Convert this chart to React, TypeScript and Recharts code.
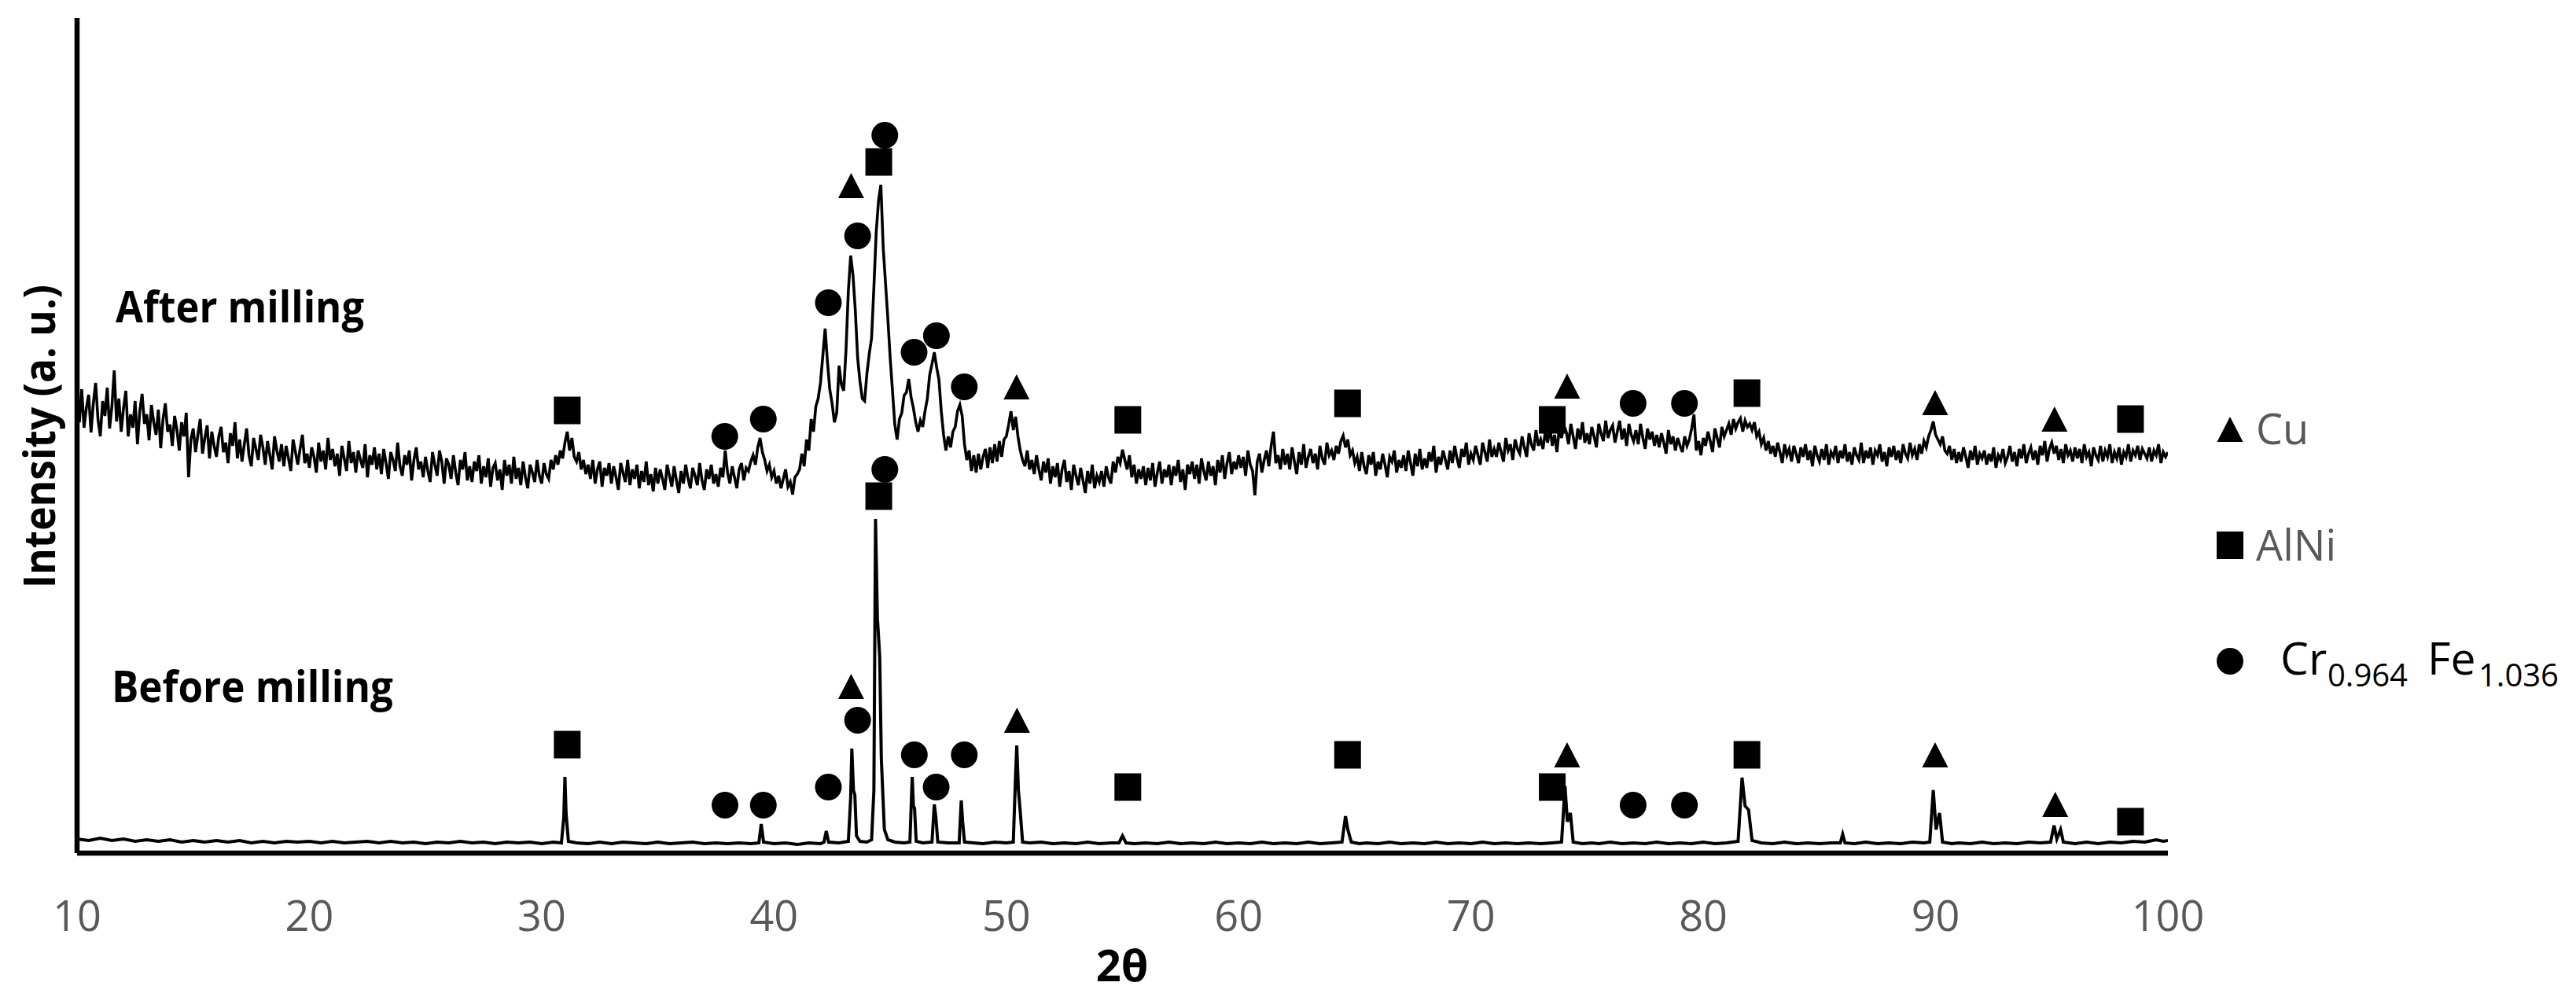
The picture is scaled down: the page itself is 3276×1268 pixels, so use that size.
import React from 'react';
import { ComposedChart, Line, Scatter, XAxis, YAxis, ReferenceLine } from 'recharts';

const X_TICKS = [10, 20, 30, 40, 50, 60, 70, 80, 90, 100];

// After milling intensity (a.u.), sampled every 0.1° from 10.0° to 41.0°
const afterLow = [
  575, 548, 590, 541, 566, 583, 535, 572, 598, 552,
  530, 575, 556, 592, 540, 568, 614, 549, 578, 536,
  566, 588, 530, 558, 541, 575, 520, 562, 584, 546,
  558, 525, 570, 548, 532, 564, 515, 552, 572, 536,
  545, 518, 556, 538, 512, 548, 530, 560, 478, 526,
  540, 510, 532, 552, 508, 528, 544, 502, 536, 518,
  504, 530, 542, 510, 522, 496, 534, 518, 548, 502,
  526, 498, 520, 540, 506, 492, 528, 514, 500, 532,
  516, 494, 524, 506, 488, 530, 512, 498, 520, 492,
  518, 502, 486, 526, 510, 494, 514, 532, 496, 508,
  490, 516, 504, 484, 522, 498, 512, 488, 528, 500,
  514, 492, 508, 480, 518, 502, 486, 524, 496, 510,
  484, 512, 500, 490, 520, 478, 506, 494, 516, 488,
  508, 482, 514, 496, 476, 510, 500, 486, 522, 492,
  480, 506, 494, 512, 474, 500, 516, 488, 498, 478,
  504, 486, 472, 510, 494, 480, 512, 498, 470, 502,
  494, 476, 506, 484, 468, 500, 488, 510, 474, 492,
  472, 498, 486, 506, 470, 492, 478, 502, 466, 490,
  496, 474, 488, 462, 500, 480, 494, 470, 504, 476,
  490, 468, 498, 478, 464, 494, 484, 472, 500, 480,
  470, 496, 482, 476, 500, 488, 506, 494, 512, 502,
  522, 536, 512, 528, 504, 498, 510, 488, 500, 482,
  494, 476, 500, 470, 488, 498, 466, 490, 480, 496,
  470, 492, 478, 462, 496, 484, 472, 500, 468, 488,
  476, 494, 464, 486, 472, 498, 468, 482, 460, 490,
  470, 488, 476, 462, 494, 480, 466, 492, 474, 458,
  486, 470, 494, 476, 464, 490, 480, 468, 496, 474,
  462, 488, 476, 494, 470, 482, 466, 490, 478, 512,
  484, 470, 492, 478, 464, 488, 496, 474, 490, 486,
  498, 506, 494, 516, 528, 510, 500, 486, 494, 478,
  486, 470, 480, 464, 476, 488, 466, 472, 456, 478,
  482,
];

// After milling, every 0.1° from 41.1° to 51.0° (main peak cluster)
const afterPeak = [
  488, 508, 492, 526, 512, 552, 536, 568, 578, 598,
  632, 667, 625, 590, 572, 548, 560, 620, 596, 588,
  640, 715, 760, 735, 690, 630, 600, 578, 575, 610,
  635, 655, 720, 790, 830, 850, 770, 725, 680, 630,
  588, 545, 526, 552, 560, 582, 586, 603, 580, 566,
  548, 536, 550, 542, 562, 578, 608, 622, 637, 618,
  602, 562, 532, 512, 530, 516, 536, 542, 562, 570,
  556, 520, 500, 512, 486, 506, 484, 508, 488, 504,
  514, 490, 516, 496, 520, 498, 524, 504, 526, 530,
  545, 562, 538, 555, 530, 512, 500, 492, 512, 488,
];

// After milling, every 0.1° from 51.1° to 100.0°
const afterHigh = [
  500, 482, 506, 488, 474, 498, 484, 502, 470, 492,
  478, 496, 466, 488, 500, 472, 486, 462, 494, 480,
  468, 490, 474, 458, 486, 470, 494, 464, 480, 472,
  486, 466, 492, 478, 470, 498, 484, 504, 496, 513,
  500, 488, 506, 478, 494, 470, 488, 476, 492, 468,
  490, 474, 496, 466, 484, 498, 470, 488, 478, 494,
  468, 492, 480, 500, 472, 488, 462, 494, 482, 498,
  476, 494, 470, 502, 486, 474, 498, 480, 492, 468,
  500, 484, 506, 476, 496, 510, 482, 498, 488, 506,
  490, 504, 480, 512, 494, 486, 455, 498, 508, 484,
  500, 512, 492, 518, 536, 496, 506, 488, 514, 494,
  508, 488, 516, 498, 482, 510, 494, 520, 490, 504,
  514, 496, 508, 488, 518, 502, 494, 522, 506, 512,
  500, 518, 508, 524, 531, 516, 526, 506, 512, 496,
  504, 486, 510, 492, 482, 506, 494, 510, 480, 498,
  488, 508, 494, 478, 504, 498, 512, 484, 500, 490,
  506, 486, 512, 496, 480, 508, 492, 514, 488, 502,
  490, 510, 498, 518, 484, 504, 494, 512, 500, 488,
  512, 496, 518, 502, 490, 514, 504, 522, 494, 508,
  500, 518, 506, 494, 522, 510, 498, 526, 504, 514,
  504, 522, 510, 498, 528, 512, 520, 500, 526, 514,
  508, 530, 516, 504, 534, 520, 512, 538, 518, 526,
  514, 536, 522, 542, 518, 532, 510, 540, 528, 544,
  536, 520, 546, 530, 514, 540, 526, 548, 522, 534,
  520, 542, 530, 516, 546, 534, 524, 550, 528, 538,
  544, 522, 536, 550, 526, 540, 518, 546, 532, 524,
  538, 520, 546, 528, 514, 540, 526, 536, 518, 532,
  516, 534, 522, 508, 538, 520, 530, 512, 528, 518,
  510, 530, 518, 526, 540, 558, 512, 524, 506, 528,
  518, 536, 524, 510, 540, 528, 516, 542, 530, 538,
  546, 532, 552, 540, 548, 553, 536, 550, 542, 546,
  538, 548, 530, 536, 520, 528, 512, 524, 508, 518,
  504, 522, 510, 496, 520, 506, 514, 498, 518, 508,
  496, 516, 504, 520, 500, 512, 492, 518, 506, 498,
  514, 500, 520, 494, 510, 504, 518, 496, 512, 502,
  520, 498, 510, 494, 516, 506, 500, 522, 496, 512,
  502, 516, 494, 512, 506, 520, 498, 510, 492, 516,
  504, 518, 500, 512, 496, 520, 508, 502, 522, 506,
  514, 500, 520, 508, 524, 516, 530, 538, 549, 532,
  526, 520, 530, 512, 508, 518, 500, 514, 496, 510,
  498, 516, 504, 490, 512, 500, 518, 494, 508, 502,
  512, 494, 508, 498, 516, 490, 506, 500, 514, 496,
  504, 518, 498, 510, 492, 514, 502, 520, 496, 508,
  516, 500, 512, 494, 518, 506, 524, 498, 514, 522,
  508, 518, 500, 514, 496, 520, 506, 512, 498, 516,
  502, 514, 496, 520, 504, 510, 492, 516, 506, 500,
  518, 498, 512, 504, 520, 496, 510, 502, 516, 494,
  510, 504, 520, 498, 512, 506, 518, 500, 514, 508,
  502, 516, 498, 512, 506, 520, 496, 510, 504, 510,
];

// Before milling [2θ, intensity]
const beforeLow: [number, number][] = [
  [10, 18], [10.5, 16], [11, 19], [11.5, 16], [12, 18], [12.5, 15], [13, 17], [13.5, 15], [14, 17], [14.5, 14],
  [15, 16], [15.5, 14], [16, 16], [16.5, 14], [17, 16], [17.5, 13], [18, 15], [18.5, 13], [19, 15], [19.5, 14],
  [20, 15], [20.5, 13], [21, 15], [21.5, 13], [22, 14], [22.5, 15], [23, 13], [23.5, 15], [24, 13], [24.5, 14],
  [25, 12], [25.5, 14], [26, 13], [26.5, 15], [27, 13], [27.5, 14], [28, 12], [28.5, 14], [29, 13], [29.5, 14],
  [30, 12], [30.5, 14],
];
const beforeMid: [number, number][] = [
  [30.85, 13], [30.95, 45], [31.0, 97], [31.05, 50], [31.15, 15], [31.5, 13], [32, 12], [32.5, 14], [33, 12],
  [33.5, 14], [34, 13], [34.5, 12], [35, 14], [35.5, 12], [36, 13], [36.5, 14], [37, 12], [37.5, 13], [38, 12],
  [38.5, 13], [39, 12], [39.35, 13], [39.45, 37], [39.55, 14], [40, 12], [40.5, 13], [41, 11], [41.5, 13],
  [42, 12], [42.15, 14], [42.25, 28], [42.35, 14], [42.8, 13], [43.2, 15], [43.3, 70], [43.35, 133], [43.42, 80],
  [43.48, 74], [43.55, 22], [43.7, 15], [44.0, 14], [44.2, 17], [44.3, 80], [44.37, 425], [44.45, 300],
  [44.55, 250], [44.62, 120], [44.75, 30], [44.9, 17], [45.2, 14], [45.6, 13], [45.85, 14], [45.95, 97],
  [46.0, 60], [46.05, 57], [46.12, 15], [46.4, 13], [46.8, 14], [46.9, 62], [46.97, 45], [47.05, 14],
  [47.5, 13], [47.97, 13], [48.06, 67], [48.12, 40], [48.2, 14], [48.6, 13], [49, 12], [49.5, 14], [50, 13],
  [50.3, 14], [50.4, 100], [50.45, 137], [50.52, 80], [50.58, 60], [50.7, 14], [51, 13],
];
const beforeHigh: [number, number][] = [
  [51.5, 14], [52, 12], [52.5, 13], [53, 12], [53.5, 14], [54, 12], [54.5, 13], [54.85, 13], [55.0, 22],
  [55.15, 13], [55.5, 12], [56, 13], [56.5, 12], [57, 14], [57.5, 12], [58, 13], [58.5, 12], [59, 14],
  [59.5, 12], [60, 13], [60.5, 12], [61, 14], [61.5, 12], [62, 13], [62.5, 12], [63, 14], [63.5, 12], [64, 13],
  [64.45, 14], [64.6, 47], [64.7, 30], [64.85, 14], [65.2, 12], [65.5, 13], [66, 12], [66.5, 14], [67, 12],
  [67.5, 13], [68, 12], [68.5, 14], [69, 12], [69.5, 13], [70, 12], [70.5, 14], [71, 12], [71.5, 13], [72, 12],
  [72.5, 13], [73, 12], [73.5, 13], [73.9, 14], [74.05, 85], [74.15, 40], [74.28, 51], [74.4, 14], [74.8, 12],
  [75.2, 13], [75.5, 12], [76, 14], [76.5, 12], [77, 13], [77.5, 12], [78, 14], [78.5, 12], [79, 13],
  [79.5, 12], [80, 14], [80.5, 12], [81, 13], [81.5, 15], [81.67, 96], [81.8, 60], [81.95, 55], [82.1, 16],
  [82.5, 13], [83, 12], [83.5, 14], [84, 12], [84.5, 13], [85, 12], [85.5, 13], [85.9, 13], [86.0, 24],
  [86.1, 13], [86.5, 12], [87, 14], [87.5, 12], [88, 13], [88.5, 12], [89, 14], [89.5, 13], [89.75, 14],
  [89.9, 80], [90.02, 30], [90.17, 51], [90.3, 14], [90.7, 12], [91, 13], [91.5, 12], [92, 14], [92.5, 12],
  [93, 13], [93.5, 12], [94, 14], [94.5, 13], [94.95, 14], [95.1, 35], [95.22, 18], [95.38, 30], [95.5, 14],
  [96, 12], [96.5, 14], [97, 12], [97.5, 14], [98, 13], [98.5, 15], [99, 14], [99.5, 17], [99.8, 15], [100, 16],
];

// Phase markers [2θ, level]
const cuMarks: [number, number][] = [
  [43.32, 849], [50.44, 593], [74.14, 594], [89.98, 573], [95.12, 552],
  [43.32, 212], [50.46, 169], [74.14, 125], [89.98, 125], [95.15, 62],
];
const alniMarks: [number, number][] = [
  [31.1, 563], [44.51, 879], [55.23, 551], [64.69, 572], [73.5, 551], [81.88, 585], [98.39, 552],
  [31.1, 138], [44.51, 454], [55.23, 84], [64.69, 125], [73.5, 84], [81.88, 125], [98.39, 40],
];
const crfeMarks: [number, number][] = [
  [37.88, 530], [39.54, 552], [42.34, 700], [43.6, 785], [44.77, 913], [46.03, 637], [46.99, 658],
  [48.19, 593], [76.98, 572], [79.19, 572],
  [37.89, 61], [39.54, 61], [42.34, 84], [43.6, 169], [44.77, 488], [46.04, 125], [46.98, 84],
  [48.19, 125], [76.98, 61], [79.19, 61],
];

const grid = (vals: number[], start: number, step: number) =>
  vals.map((y, i) => ({ x: Math.round((start + i * step) * 100) / 100, y }));
const pairs = (p: [number, number][]) => p.map(([x, y]) => ({ x, y }));

const afterData = [...grid(afterLow, 10, 0.1), ...grid(afterPeak, 41.1, 0.1), ...grid(afterHigh, 51.1, 0.1)];
const beforeData = pairs([...beforeLow, ...beforeMid, ...beforeHigh]);

const TriangleShape = (p: any) => {
  const { cx, cy } = p;
  return <polygon points={`${cx},${cy - 16} ${cx + 16.5},${cy + 16} ${cx - 16.5},${cy + 16}`} fill="#000" />;
};
const SquareShape = (p: any) => {
  const { cx, cy } = p;
  return <rect x={cx - 17} y={cy - 17.5} width={34} height={35} fill="#000" />;
};
const CircleShape = (p: any) => {
  const { cx, cy } = p;
  return <circle cx={cx} cy={cy} r={17} fill="#000" />;
};

const FONT = "'Open Sans', 'Noto Sans', sans-serif";

export default function App() {
  return (
    <div style={{ position: 'absolute', left: 0, top: 0, width: 3276, height: 1268, background: '#fff' }}>
      <ComposedChart
        width={3276}
        height={1268}
        margin={{ top: 23, right: 519, bottom: 0, left: 98 }}
      >
        <XAxis
          type="number"
          dataKey="x"
          domain={[10, 100]}
          ticks={X_TICKS}
          allowDataOverflow
          height={183}
          tickSize={0}
          tickMargin={61}
          tickLine={false}
          axisLine={{ stroke: '#000', strokeWidth: 6.5 }}
          tick={{ fill: '#595959', fontSize: 54, fontFamily: FONT }}
        />
        <YAxis type="number" domain={[0, 1062]} allowDataOverflow width={0} hide />
        <ReferenceLine x={10} stroke="#000" strokeWidth={6.5} ifOverflow="visible" />
        <Line data={beforeData} dataKey="y" type="linear" stroke="#000" strokeWidth={4} dot={false} isAnimationActive={false} />
        <Line data={afterData} dataKey="y" type="linear" stroke="#000" strokeWidth={3.6} dot={false} isAnimationActive={false} />
        <Scatter data={pairs(cuMarks)} dataKey="y" shape={TriangleShape} isAnimationActive={false} />
        <Scatter data={pairs(alniMarks)} dataKey="y" shape={SquareShape} isAnimationActive={false} />
        <Scatter data={pairs(crfeMarks)} dataKey="y" shape={CircleShape} isAnimationActive={false} />
      </ComposedChart>
      <svg
        width={3276}
        height={1268}
        style={{ position: 'absolute', left: 0, top: 0, pointerEvents: 'none' }}
      >
        <g fontFamily={FONT}>
          <text x={147} y={410} fontSize={56} fontWeight={700} fill="#000" textLength={316} lengthAdjust="spacingAndGlyphs">After milling</text>
          <text x={142} y={893} fontSize={56} fontWeight={700} fill="#000" textLength={358} lengthAdjust="spacingAndGlyphs">Before milling</text>
          <text x={70} y={555} fontSize={56} fontWeight={700} fill="#000" textAnchor="middle" transform="rotate(-90 70 555)" textLength={386} lengthAdjust="spacingAndGlyphs">Intensity (a. u.)</text>
          <text x={1427} y={1248} fontSize={56} fontWeight={700} fill="#000" textAnchor="middle">2θ</text>

          <polygon points="2836,530 2852.5,562 2819.5,562" fill="#000" />
          <text x={2869} y={565} fontSize={54} fill="#595959">Cu</text>
          <rect x={2819} y={676} width={34} height={35} fill="#000" />
          <text x={2869} y={713} fontSize={54} fill="#595959">AlNi</text>
          <circle cx={2836} cy={841} r={17} fill="#000" />
          <text y={858} fontSize={57} fill="#000">
            <tspan x={2900}>Cr</tspan>
            <tspan x={2960} y={873} fontSize={40}>0.964</tspan>
            <tspan x={3087} y={858} fontSize={57}>Fe</tspan>
            <tspan x={3152} y={873} fontSize={40}>1.036</tspan>
          </text>
        </g>
      </svg>
    </div>
  );
}
